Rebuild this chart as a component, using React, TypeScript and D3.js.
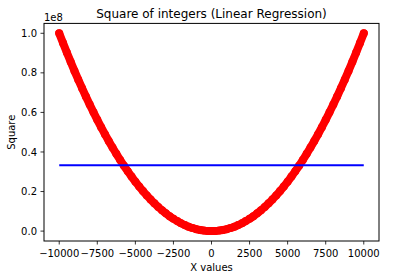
import React from "react";
import * as d3 from "d3";

const xValues = [
  -10000, -9750, -9500, -9250, -9000, -8750, -8500, -8250, -8000, -7750,
  -7500, -7250, -7000, -6750, -6500, -6250, -6000, -5750, -5500, -5250,
  -5000, -4750, -4500, -4250, -4000, -3750, -3500, -3250, -3000, -2750,
  -2500, -2250, -2000, -1750, -1500, -1250, -1000, -750, -500, -250,
  0,
  250, 500, 750, 1000, 1250, 1500, 1750, 2000, 2250, 2500,
  2750, 3000, 3250, 3500, 3750, 4000, 4250, 4500, 4750, 5000,
  5250, 5500, 5750, 6000, 6250, 6500, 6750, 7000, 7250, 7500,
  7750, 8000, 8250, 8500, 8750, 9000, 9250, 9500, 9750, 10000,
];

const squareValues = [
  100000000, 95062500, 90250000, 85562500, 81000000, 76562500, 72250000, 68062500, 64000000, 60062500,
  56250000, 52562500, 49000000, 45562500, 42250000, 39062500, 36000000, 33062500, 30250000, 27562500,
  25000000, 22562500, 20250000, 18062500, 16000000, 14062500, 12250000, 10562500, 9000000, 7562500,
  6250000, 5062500, 4000000, 3062500, 2250000, 1562500, 1000000, 562500, 250000, 62500,
  0,
  62500, 250000, 562500, 1000000, 1562500, 2250000, 3062500, 4000000, 5062500, 6250000,
  7562500, 9000000, 10562500, 12250000, 14062500, 16000000, 18062500, 20250000, 22562500, 25000000,
  27562500, 30250000, 33062500, 36000000, 39062500, 42250000, 45562500, 49000000, 52562500, 56250000,
  60062500, 64000000, 68062500, 72250000, 76562500, 81000000, 85562500, 90250000, 95062500, 100000000,
];

const fitX = [-10000, 10000];
const fitY = [33336667, 33336667];

const xTicks = [-10000, -7500, -5000, -2500, 0, 2500, 5000, 7500, 10000];
const xTickLabels = ["−10000", "−7500", "−5000", "−2500", "0", "2500", "5000", "7500", "10000"];
const yTicks = [0, 20000000, 40000000, 60000000, 80000000, 100000000];
const yTickLabels = ["0.0", "0.2", "0.4", "0.6", "0.8", "1.0"];

const W = 416;
const H = 279;
const left = 44;
const right = 379;
const top = 23.4;
const bottom = 241;
const FONT = "DejaVu Sans, sans-serif";

export default function App() {
  const x = d3.scaleLinear().domain([-11000, 11000]).range([left, right]);
  const y = d3.scaleLinear().domain([-5000000, 105000000]).range([bottom, top]);
  const pts = xValues.map((v, i) => [v, squareValues[i]] as [number, number]);
  const band = d3
    .line<[number, number]>()
    .x((d) => x(d[0]))
    .y((d) => y(d[1]))
    .curve(d3.curveMonotoneX)(pts) as string;
  const fit = d3
    .line<number>()
    .x((d) => x(d))
    .y((_, i) => y(fitY[i]))(fitX) as string;

  return (
    <svg
      width={W}
      height={H}
      style={{ position: "absolute", left: 0, top: 0, background: "#fff" }}
      fontFamily={FONT}
    >
      <rect x={0} y={0} width={W} height={H} fill="#fff" />
      <path d={band} fill="none" stroke="#ff0000" strokeWidth={8} strokeLinecap="round" strokeLinejoin="round" />
      {pts.map((d, i) => (
        <circle key={i} cx={x(d[0])} cy={y(d[1])} r={4} fill="#ff0000" />
      ))}
      <path d={fit} fill="none" stroke="#0000ff" strokeWidth={2} />
      <rect x={left} y={top} width={right - left} height={bottom - top} fill="none" stroke="#000" strokeWidth={1} />
      {xTicks.map((t, i) => (
        <g key={"x" + i}>
          <line x1={x(t)} x2={x(t)} y1={bottom} y2={bottom + 3.5} stroke="#000" strokeWidth={0.8} />
          <text x={x(t)} y={bottom + 15.5} fontSize={10} textAnchor="middle" fill="#000">
            {xTickLabels[i]}
          </text>
        </g>
      ))}
      {yTicks.map((t, i) => (
        <g key={"y" + i}>
          <line x1={left - 3.5} x2={left} y1={y(t)} y2={y(t)} stroke="#000" strokeWidth={0.8} />
          <text x={left - 7} y={y(t) + 3.6} fontSize={10} textAnchor="end" fill="#000">
            {yTickLabels[i]}
          </text>
        </g>
      ))}
      <text x={left} y={20.5} fontSize={10} fill="#000">1e8</text>
      <text x={(left + right) / 2} y={17.5} fontSize={12} textAnchor="middle" fill="#000">
        Square of integers (Linear Regression)
      </text>
      <text x={(left + right) / 2} y={271} fontSize={10} textAnchor="middle" fill="#000">
        X values
      </text>
      <text
        transform={`translate(14.8, ${(top + bottom) / 2}) rotate(-90)`}
        fontSize={10}
        textAnchor="middle"
        fill="#000"
      >
        Square
      </text>
    </svg>
  );
}
